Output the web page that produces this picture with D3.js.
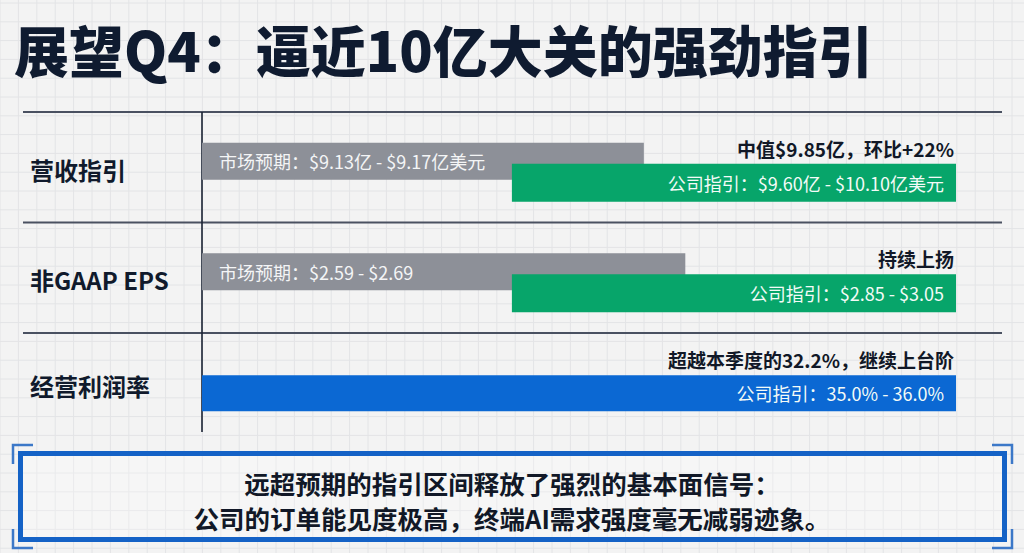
<!DOCTYPE html>
<html>
<head>
<meta charset="utf-8">
<script src="https://cdn.jsdelivr.net/npm/d3@7/dist/d3.min.js"></script>
<style>
html,body{margin:0;padding:0;background:#f3f3f3;}
svg{display:block;}
</style>
</head>
<body>
<svg id="chart" width="1024" height="553"></svg>
<script>
// ---- data ----
const title = "展望Q4：逼近10亿大关的强劲指引";
const categories = ["营收指引", "非GAAP EPS", "经营利润率"];
// relative bar extents (0-100 index along the bar axis)
const expectStart = [0, 0, null];
const expectEnd = [58.6, 64.1, null];
const guideStart = [41.1, 41.1, 0];
const guideEnd = [100, 100, 100];
const expectLabels = ["市场预期：$9.13亿 - $9.17亿美元", "市场预期：$2.59 - $2.69", null];
const guideLabels = ["公司指引：$9.60亿 - $10.10亿美元", "公司指引：$2.85 - $3.05", "公司指引：35.0% - 36.0%"];
const notes = ["中值$9.85亿，环比+22%", "持续上扬", "超越本季度的32.2%，继续上台阶"];
const summary = ["远超预期的指引区间释放了强烈的基本面信号：", "公司的订单能见度极高，终端AI需求强度毫无减弱迹象。"];

// ---- setup ----
const W = 1024, H = 553;
const svg = d3.select("#chart");
const FONT = "'Noto Sans CJK SC','Noto Sans',sans-serif";

// background grid
const grid = svg.append("g");
grid.append("rect").attr("width", W).attr("height", H).attr("fill", "#f3f3f3");
const gx = d3.range(0, W, 18.4), gy = d3.range(3, H, 18.8);
grid.selectAll(".gv").data(gx).join("line")
  .attr("x1", d => d).attr("x2", d => d).attr("y1", 0).attr("y2", H)
  .attr("stroke", "#e3e4e6").attr("stroke-width", 1);
grid.selectAll(".gh").data(gy).join("line")
  .attr("y1", d => d).attr("y2", d => d).attr("x1", 0).attr("x2", W)
  .attr("stroke", "#e3e4e6").attr("stroke-width", 1);

// title
svg.append("text").attr("x", 14).attr("y", 72)
  .attr("font-family", FONT).attr("font-weight", 900).attr("font-size", 55)
  .attr("fill", "#0f1b30").text(title);

// scales
const x = d3.scaleLinear().domain([0, 100]).range([202, 956]);
const y = d3.scaleBand().domain(categories).range([117, 448.5]).padding(0);
const cy = c => y(c) + y.bandwidth() / 2;

// dividers
svg.selectAll(".div").data(categories).join("line")
  .attr("x1", 23).attr("x2", 1002)
  .attr("y1", d => y(d) - 5).attr("y2", d => y(d) - 5)
  .attr("stroke", "#4a5161").attr("stroke-width", 2);
svg.append("line").attr("x1", x(0)).attr("x2", x(0))
  .attr("y1", y(categories[0]) - 5).attr("y2", 432)
  .attr("stroke", "#1a2233").attr("stroke-width", 1.6);

// row labels
svg.selectAll(".lab").data(categories).join("text")
  .attr("x", 30).attr("y", (d, i) => cy(d) - (i === 2 ? 8 : 3))
  .attr("dominant-baseline", "central")
  .attr("font-family", FONT).attr("font-weight", 700).attr("font-size", 24)
  .attr("fill", "#101a2c").text(d => d);

const rows = categories.map((c, i) => ({c, i}));
const hasExpect = rows.filter(r => expectEnd[r.i] != null);
const guideTop = r => expectEnd[r.i] != null ? cy(r.c) - 8.5 : cy(r.c) - 18;
const guideH = r => expectEnd[r.i] != null ? 38 : 36;
const guideColor = r => expectEnd[r.i] != null ? "#07a56a" : "#0b68d3";

// market expectation bars
svg.selectAll(".exp").data(hasExpect).join("rect")
  .attr("x", r => x(expectStart[r.i])).attr("width", r => x(expectEnd[r.i]) - x(expectStart[r.i]))
  .attr("y", r => cy(r.c) - 29.5).attr("height", 37)
  .attr("fill", "#8d9098");
svg.selectAll(".expt").data(hasExpect).join("text")
  .attr("x", r => x(expectStart[r.i]) + 17).attr("y", r => cy(r.c) - 11)
  .attr("dominant-baseline", "central")
  .attr("font-family", FONT).attr("font-size", 18).attr("fill", "#f4f5f6")
  .text(r => expectLabels[r.i]);

// guidance bars
svg.selectAll(".gd").data(rows).join("rect")
  .attr("x", r => x(guideStart[r.i])).attr("width", r => x(guideEnd[r.i]) - x(guideStart[r.i]))
  .attr("y", guideTop).attr("height", guideH)
  .attr("fill", guideColor);
svg.selectAll(".gdt").data(rows).join("text")
  .attr("x", r => x(guideEnd[r.i]) - 12).attr("y", r => guideTop(r) + guideH(r) / 2)
  .attr("dominant-baseline", "central").attr("text-anchor", "end")
  .attr("font-family", FONT).attr("font-size", 18).attr("fill", "#f3fbf7")
  .text(r => guideLabels[r.i]);

// notes
svg.selectAll(".note").data(rows).join("text")
  .attr("x", r => x(guideEnd[r.i]) - 2).attr("y", r => guideTop(r) - 7)
  .attr("text-anchor", "end")
  .attr("font-family", FONT).attr("font-weight", 700).attr("font-size", 19)
  .attr("fill", "#111827")
  .text(r => notes[r.i]);

// summary box
const box = svg.append("g");
box.append("rect").attr("x", 20.5).attr("y", 453.5).attr("width", 984).attr("height", 86)
  .attr("fill", "rgba(255,255,255,0.25)").attr("stroke", "#1462c6").attr("stroke-width", 5);
const br = "#3c78c8";
const corners = [
  [13, 445, 1, 1], [1012, 445, -1, 1], [13, 548, 1, -1], [1012, 548, -1, -1]
];
box.selectAll(".cor").data(corners).join("path")
  .attr("d", d => `M${d[0] + d[2] * 20},${d[1]} L${d[0]},${d[1]} L${d[0]},${d[1] + d[3] * 19}`)
  .attr("fill", "none").attr("stroke", br).attr("stroke-width", 2.5);
box.selectAll(".sum").data(summary).join("text")
  .attr("x", 512).attr("y", (d, i) => 482 + i * 35)
  .attr("text-anchor", "middle").attr("dominant-baseline", "central")
  .attr("font-family", FONT).attr("font-weight", 700).attr("font-size", 25.5)
  .attr("fill", "#111827").text(d => d);
</script>
</body>
</html>
